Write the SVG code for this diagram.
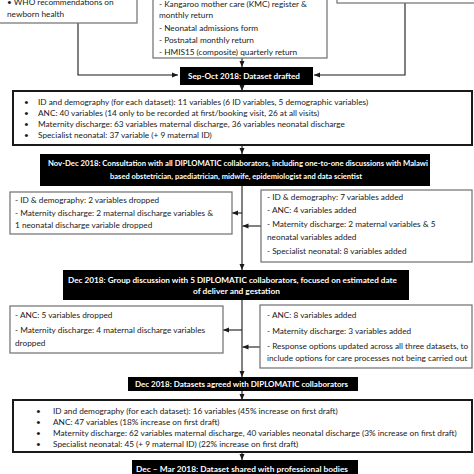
<svg xmlns="http://www.w3.org/2000/svg" width="474" height="474" viewBox="0 0 474 474">
<defs>
<style>
.t{font-family:Lato,"Open Sans","Liberation Sans",sans-serif;font-size:8.25px;fill:#1a1a1a}
.w{font-family:Lato,"Open Sans","Liberation Sans",sans-serif;font-size:8px;font-weight:bold;fill:#fff}
.box{fill:#fff;stroke:#6e6e6e;stroke-width:1.2}
.thick{fill:#fff;stroke:#1a1a1a;stroke-width:2}
.blk{fill:#000;stroke:none}
.c{fill:none;stroke:#1a1a1a;stroke-width:1.1}
</style>
<marker id="ah" viewBox="0 0 6 6" refX="6" refY="3" markerWidth="6" markerHeight="6" markerUnits="userSpaceOnUse" orient="auto">
<path d="M0,0.5 L6,3 L0,5.5 Z" fill="#1a1a1a"/>
</marker>
</defs>
<rect width="474" height="474" fill="#fff"/>

<g id="connectors">
<path class="c" d="M78,23 V75 H178" marker-end="url(#ah)"/>
<path class="c" d="M405,3 V75 H314" marker-end="url(#ah)"/>
<path class="c" d="M242,58 V67" marker-end="url(#ah)"/>
<path class="c" d="M242,85 V91" marker-end="url(#ah)"/>
<path class="c" d="M242,145 V154" marker-end="url(#ah)"/>
<path class="c" d="M242,186 V270" marker-end="url(#ah)"/>
<path class="c" d="M242,213 H232" marker-end="url(#ah)"/>
<path class="c" d="M261,226 H242.5" marker-end="url(#ah)"/>
<path class="c" d="M242,300 V377" marker-end="url(#ah)"/>
<path class="c" d="M242,330 H223" marker-end="url(#ah)"/>
<path class="c" d="M260,347 H242.5" marker-end="url(#ah)"/>
<path class="c" d="M242,391 V400" marker-end="url(#ah)"/>
<path class="c" d="M242,452 V460" marker-end="url(#ah)"/>
</g>

<g id="src-who">
<rect class="box" x="-2" y="-20" width="139" height="43"/>
<text class="t" x="7" y="5">• WHO recommendations on</text>
<text class="t" x="7" y="17">newborn health</text>
</g>

<g id="src-forms">
<rect class="box" x="153" y="-20" width="174" height="78"/>
<text class="t" x="159" y="7">- Kangaroo mother care (KMC) register &amp;</text>
<text class="t" x="159" y="18">monthly return</text>
<text class="t" x="159" y="30.5">- Neonatal admissions form</text>
<text class="t" x="159" y="42.5">- Postnatal monthly return</text>
<text class="t" x="159" y="54.5">- HMIS15 (composite) quarterly return</text>
</g>

<g id="src-right">
<rect class="box" x="337" y="-20" width="140" height="23"/>
</g>

<g id="sep-oct">
<rect class="blk" x="180" y="67" width="133" height="18"/>
<text class="w" x="188" y="79" textLength="112" lengthAdjust="spacingAndGlyphs">Sep-Oct 2018:  Dataset drafted</text>
</g>

<g id="draft">
<rect class="thick" x="13" y="91" width="459" height="54"/>
<text class="t" x="24" y="105">•</text><text class="t" x="38" y="105">ID and demography (for each dataset): 11 variables (6 ID variables, 5 demographic variables)</text>
<text class="t" x="24" y="116">•</text><text class="t" x="38" y="116">ANC: 40 variables (14 only to be recorded at first/booking visit, 26 at all visits)</text>
<text class="t" x="24" y="127">•</text><text class="t" x="38" y="127">Maternity discharge: 63 variables maternal discharge, 36 variables neonatal discharge</text>
<text class="t" x="24" y="138">•</text><text class="t" x="38" y="138">Specialist neonatal: 37 variable (+ 9 maternal ID)</text>
</g>

<g id="nov-dec">
<rect class="blk" x="40" y="154" width="390" height="32"/>
<text class="w" x="48" y="166" textLength="380" lengthAdjust="spacingAndGlyphs">Nov-Dec 2018: Consultation with all DIPLOMATIC collaborators, including one-to-one discussions with Malawi</text>
<text class="w" x="110" y="179" textLength="252" lengthAdjust="spacingAndGlyphs">based obstetrician, paediatrician, midwife, epidemiologist and data scientist</text>
</g>

<g id="dropped-1">
<rect class="box" x="10" y="192" width="222" height="42"/>
<text class="t" x="15" y="203">- ID &amp; demography: 2 variables dropped</text>
<text class="t" x="15" y="216">- Maternity discharge: 2 maternal discharge variables &amp;</text>
<text class="t" x="15" y="228">1 neonatal discharge variable dropped</text>
</g>

<g id="added-1">
<rect class="box" x="261" y="190" width="211" height="72"/>
<text class="t" x="267" y="200">- ID &amp; demography: 7 variables added</text>
<text class="t" x="267" y="213">- ANC: 4 variables added</text>
<text class="t" x="267" y="227">- Maternity discharge: 2 maternal variables &amp; 5</text>
<text class="t" x="267" y="240">neonatal variables added</text>
<text class="t" x="267" y="254">- Specialist neonatal: 8 variables added</text>
</g>

<g id="dec-group">
<rect class="blk" x="63" y="270" width="346" height="30"/>
<text class="w" x="68" y="282.5" textLength="329" lengthAdjust="spacingAndGlyphs">Dec 2018: Group discussion with 5 DIPLOMATIC collaborators, focused on estimated date</text>
<text class="w" x="193" y="294" textLength="87" lengthAdjust="spacingAndGlyphs">of deliver and gestation</text>
</g>

<g id="dropped-2">
<rect class="box" x="10" y="306" width="213" height="47"/>
<text class="t" x="15" y="318">- ANC: 5 variables dropped</text>
<text class="t" x="15" y="333">- Maternity discharge: 4 maternal discharge variables</text>
<text class="t" x="15" y="346">dropped</text>
</g>

<g id="added-2">
<rect class="box" x="260" y="305" width="212" height="63"/>
<text class="t" x="267" y="318">- ANC: 8 variables added</text>
<text class="t" x="267" y="334">- Maternity discharge: 3 variables added</text>
<text class="t" x="267" y="349">- Response options updated across all three datasets, to</text>
<text class="t" x="267" y="361">include options for care processes not being carried out</text>
</g>

<g id="dec-agreed">
<rect class="blk" x="128" y="377" width="230" height="14"/>
<text class="w" x="135" y="387" textLength="213" lengthAdjust="spacingAndGlyphs">Dec 2018: Datasets agreed with DIPLOMATIC collaborators</text>
</g>

<g id="final">
<rect class="thick" x="13" y="400" width="459" height="52"/>
<text class="t" x="36" y="414">•</text><text class="t" x="53" y="414">ID and demography (for each dataset): 16 variables (45% increase on first draft)</text>
<text class="t" x="36" y="425">•</text><text class="t" x="53" y="425">ANC: 47 variables (18% increase on first draft)</text>
<text class="t" x="36" y="436">•</text><text class="t" x="53" y="436">Maternity discharge: 62 variables maternal discharge, 40 variables neonatal discharge (3% increase on first draft)</text>
<text class="t" x="36" y="447">•</text><text class="t" x="53" y="447">Specialist neonatal: 45 (+ 9 maternal ID) (22% increase on first draft)</text>
</g>

<g id="dec-mar">
<rect class="blk" x="132" y="460" width="226" height="20"/>
<text class="w" x="136" y="472" textLength="212" lengthAdjust="spacingAndGlyphs">Dec – Mar 2018: Dataset shared with professional bodies</text>
</g>
</svg>
